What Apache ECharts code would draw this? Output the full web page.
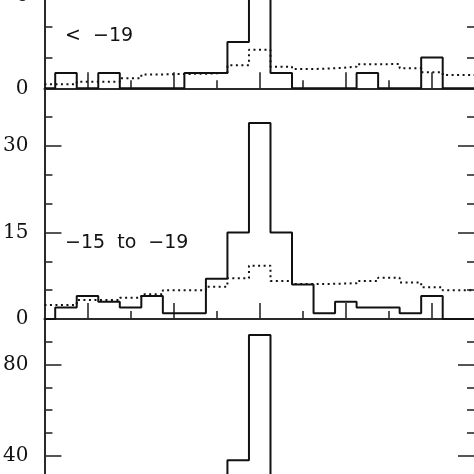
<!DOCTYPE html>
<html>
<head>
<meta charset="utf-8">
<title>Histogram panels</title>
<script src="https://cdn.jsdelivr.net/npm/echarts@6/dist/echarts.min.js"></script>
<style>
  html, body { margin: 0; padding: 0; background: #ffffff; overflow: hidden; }
  /* the figure is a crop of a taller plot: the canvas runs past the window on top and bottom */
  #chart { position: absolute; left: 0; top: -143px; width: 476px; height: 700px; }
</style>
</head>
<body>
<div id="chart"></div>
<script>
// bin centres (x axis labels are cut off in the reference, so plain bin units)
const binCenters = [-9, -8, -7, -6, -5, -4, -3, -2, -1, 0, 1, 2, 3, 4, 5, 6, 7, 8, 9]
const xMajorTicks = [-8, -4, 0, 4, 8]
const xMinorTicks = [-6, -2, 2, 6]

// panel 1: "< -19"
const histBright = [1, 0, 1, 0, 0, 0, 1, 1, 3, 10, 1, 0, 0, 0, 1, 0, 0, 2, 0]
const modelBright = [0.26, 0.43, 0.43, 0.65, 0.9, 0.93, 0.95, 1.0, 1.5, 2.5, 1.4, 1.25, 1.3, 1.4, 1.56, 1.58, 1.3, 1.04, 0.86]
const yMajorBright = [0, 6, 12]
const yMinorBright = [2, 4, 8, 10, 14]

// panel 2: "-15 to -19"
const histMid = [2, 4, 3, 2, 4, 1, 1, 7, 15, 34, 15, 6, 1, 3, 2, 2, 1, 4, 0]
const modelMid = [2.43, 3.3, 3.3, 3.7, 4.3, 5.0, 5.0, 5.6, 7.05, 9.25, 6.6, 6.05, 6.1, 6.2, 6.6, 7.15, 6.35, 5.5, 5.0]
const yMajorMid = [0, 15, 30]
const yMinorMid = [5, 10, 20, 25, 35]

// panel 3 (mostly below the crop)
const histFaint = [3, 5, 4, 6, 5, 8, 9, 18, 38, 93, 28, 10, 6, 5, 4, 5, 3, 4, 2]
const modelFaint = [5, 6, 6, 7, 8, 9, 10, 12, 15, 19, 14, 12, 12, 12, 13, 13, 12, 10, 9]
const yMajorFaint = [0, 40, 80]
const yMinorFaint = [10, 20, 30, 50, 60, 70, 90]

const xMin = -10
const xMax = 10

const ink = '#111111'
const axisInk = '#2a2a2a'
const shift = 143

const histPoints = (vals) => {
  const pts = [[xMin, 0]]
  vals.forEach((v, i) => pts.push([binCenters[i] - 0.5, v]))
  pts.push([binCenters[binCenters.length - 1] + 0.5, 0])
  pts.push([xMax, 0])
  return pts
}

const modelPoints = (vals) => {
  const pts = [[xMin, vals[0]]]
  vals.forEach((v, i) => {
    if (i > 0) pts.push([binCenters[i] - 0.5, v])
  })
  pts.push([xMax, vals[vals.length - 1]])
  return pts
}

const panels = [
  { top: -142.7, height: 231, max: 15, hist: histBright, model: modelBright, major: yMajorBright, minor: yMinorBright },
  { top: 88.3, height: 230.7, max: 40, hist: histMid, model: modelMid, major: yMajorMid, minor: yMinorMid },
  { top: 319, height: 231, max: 100, hist: histFaint, model: modelFaint, major: yMajorFaint, minor: yMinorFaint },
]

const grid = []
const xAxis = []
const yAxis = []
const series = []

const tickStyle = { color: axisInk, width: 1.6 }

panels.forEach((p, g) => {
  grid.push({ left: 43, width: 432, top: p.top + shift, height: p.height })

  // major x ticks + axis line
  xAxis.push({
    gridIndex: g, type: 'value', min: xMin, max: xMax, position: 'bottom',
    axisLine: { show: true, onZero: false, lineStyle: { color: axisInk, width: 2 } },
    axisTick: { show: true, inside: true, length: 16, customValues: xMajorTicks, lineStyle: tickStyle },
    axisLabel: { show: false },
    splitLine: { show: false },
  })
  // minor x ticks
  xAxis.push({
    gridIndex: g, type: 'value', min: xMin, max: xMax, position: 'bottom',
    axisLine: { show: false, onZero: false },
    axisTick: { show: true, inside: true, length: 8, customValues: xMinorTicks, lineStyle: tickStyle },
    axisLabel: { show: false },
    splitLine: { show: false },
  })

  const yBase = { gridIndex: g, type: 'value', min: 0, max: p.max, splitLine: { show: false } }
  // left axis with labels
  yAxis.push({
    ...yBase, position: 'left',
    axisLine: { show: true, onZero: false, lineStyle: { color: axisInk, width: 2 } },
    axisTick: { show: true, inside: true, length: 17, customValues: p.major, lineStyle: tickStyle },
    axisLabel: { show: true, customValues: p.major, margin: 16, color: ink, fontSize: 20, fontFamily: 'DejaVu Serif' },
  })
  yAxis.push({
    ...yBase, position: 'left',
    axisLine: { show: false, onZero: false },
    axisTick: { show: true, inside: true, length: 8, customValues: p.minor, lineStyle: tickStyle },
    axisLabel: { show: false },
  })
  // right axis, ticks only
  yAxis.push({
    ...yBase, position: 'right',
    axisLine: { show: true, onZero: false, lineStyle: { color: axisInk, width: 2 } },
    axisTick: { show: true, inside: true, length: 17, customValues: p.major, lineStyle: tickStyle },
    axisLabel: { show: false },
  })
  yAxis.push({
    ...yBase, position: 'right',
    axisLine: { show: false, onZero: false },
    axisTick: { show: true, inside: true, length: 8, customValues: p.minor, lineStyle: tickStyle },
    axisLabel: { show: false },
  })

  series.push({
    type: 'line', xAxisIndex: g * 2, yAxisIndex: g * 4, step: 'end',
    data: modelPoints(p.model), symbol: 'none',
    lineStyle: { color: ink, width: 2, type: [2, 3.5] },
  })
  series.push({
    type: 'line', xAxisIndex: g * 2, yAxisIndex: g * 4, step: 'end',
    data: histPoints(p.hist), symbol: 'none',
    lineStyle: { color: ink, width: 2 },
  })
})

const chart = echarts.init(document.getElementById('chart'))
chart.setOption({
  animation: false,
  grid,
  xAxis,
  yAxis,
  series,
  graphic: [
    { type: 'text', left: 65, top: 27 + shift, style: { text: '<  \u221219', fill: ink, font: '19px "DejaVu Sans"' } },
    { type: 'text', left: 65, top: 234 + shift, style: { text: '\u221215  to  \u221219', fill: ink, font: '19px "DejaVu Sans"' } },
  ],
})
</script>
</body>
</html>
